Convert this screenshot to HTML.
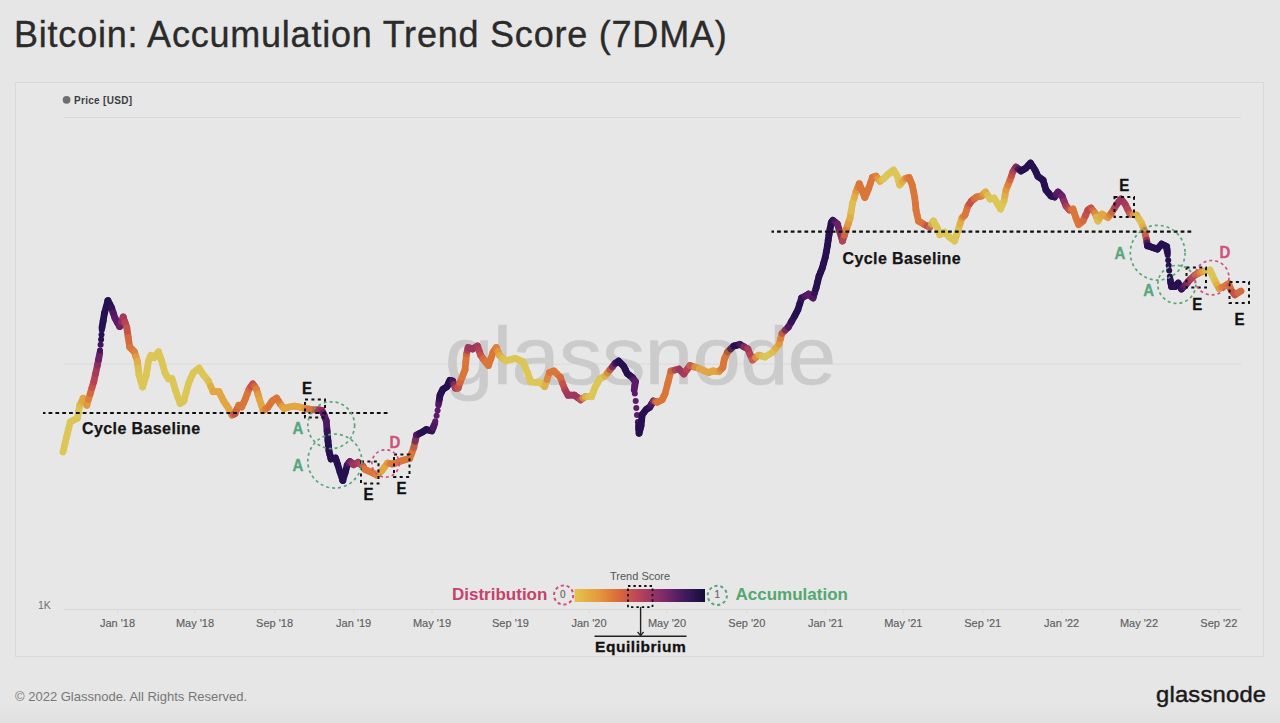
<!DOCTYPE html>
<html><head><meta charset="utf-8"><style>
html,body{margin:0;padding:0}
body{width:1280px;height:723px;overflow:hidden;position:relative;background:#e6e6e6;font-family:"Liberation Sans",sans-serif}
.abs{position:absolute;white-space:nowrap}
#title{left:14px;top:14.5px;font-size:36px;letter-spacing:0.78px;-webkit-text-stroke:0.35px #2b2b2b;color:#2b2b2b;line-height:40px}
#panel{position:absolute;left:15px;top:82px;width:1247px;height:573px;border:1px solid #d9d9d9;background:#e7e7e7}
.lab{position:absolute;width:40px;text-align:center;font-weight:bold;line-height:16px;transform:scaleY(1.08);-webkit-text-stroke:0.3px currentColor}
.xl{position:absolute;top:616.5px;width:80px;text-align:center;font-size:11px;color:#5e5e5e;line-height:13px;-webkit-text-stroke:0.15px #5e5e5e}
#footer{left:15px;top:688.5px;font-size:13px;color:#777;line-height:16px}
#logo{left:1155.6px;top:684.3px;font-size:22px;letter-spacing:0.2px;color:#1a1a1a;-webkit-text-stroke:0.45px #1a1a1a;line-height:22px;transform:scaleX(1.08);transform-origin:0 0}
#wm{left:444.8px;top:314.5px;font-size:82px;letter-spacing:-0.6px;color:#cbcbcb;-webkit-text-stroke:0.6px #cbcbcb;line-height:82px;transform:scaleX(1.06);transform-origin:0 0}
#bottom{position:absolute;left:0;top:703px;width:1280px;height:20px;background:linear-gradient(to bottom,rgba(224,224,224,0),#e0e0e0)}
</style></head><body>
<div id="panel"></div>
<div id="bottom"></div>
<div class="abs" id="title">Bitcoin: Accumulation Trend Score (7DMA)</div>
<svg class="abs" style="left:0;top:0" width="1280" height="723" viewBox="0 0 1280 723"><line x1="64" y1="117.5" x2="1241" y2="117.5" stroke="#dadada" stroke-width="1"/>
<line x1="64" y1="364" x2="1241" y2="364" stroke="#dadada" stroke-width="1"/>
<line x1="64" y1="609.5" x2="1241" y2="609.5" stroke="#d6d6d6" stroke-width="1"/><line x1="117.5" y1="610" x2="117.5" y2="614" stroke="#dcdcdc" stroke-width="1"/><line x1="195.0" y1="610" x2="195.0" y2="614" stroke="#dcdcdc" stroke-width="1"/><line x1="274.6" y1="610" x2="274.6" y2="614" stroke="#dcdcdc" stroke-width="1"/><line x1="353.7" y1="610" x2="353.7" y2="614" stroke="#dcdcdc" stroke-width="1"/><line x1="432.0" y1="610" x2="432.0" y2="614" stroke="#dcdcdc" stroke-width="1"/><line x1="510.5" y1="610" x2="510.5" y2="614" stroke="#dcdcdc" stroke-width="1"/><line x1="589.0" y1="610" x2="589.0" y2="614" stroke="#dcdcdc" stroke-width="1"/><line x1="667.0" y1="610" x2="667.0" y2="614" stroke="#dcdcdc" stroke-width="1"/><line x1="746.8" y1="610" x2="746.8" y2="614" stroke="#dcdcdc" stroke-width="1"/><line x1="825.5" y1="610" x2="825.5" y2="614" stroke="#dcdcdc" stroke-width="1"/><line x1="903.3" y1="610" x2="903.3" y2="614" stroke="#dcdcdc" stroke-width="1"/><line x1="982.7" y1="610" x2="982.7" y2="614" stroke="#dcdcdc" stroke-width="1"/><line x1="1061.7" y1="610" x2="1061.7" y2="614" stroke="#dcdcdc" stroke-width="1"/><line x1="1139.0" y1="610" x2="1139.0" y2="614" stroke="#dcdcdc" stroke-width="1"/><line x1="1218.8" y1="610" x2="1218.8" y2="614" stroke="#dcdcdc" stroke-width="1"/></svg>
<div class="abs" id="wm">glassnode</div>
<svg class="abs" style="left:0;top:0" width="1280" height="723" viewBox="0 0 1280 723">

<circle cx="66.6" cy="99.8" r="3.9" fill="#6e6e6e"/>
<g stroke-width="6.8" stroke-linecap="round" fill="none"><line x1="63.0" y1="452.0" x2="64.9" y2="444.0" stroke="#dcc656"/><line x1="64.9" y1="444.0" x2="66.8" y2="436.0" stroke="#dcc656"/><line x1="66.8" y1="436.0" x2="68.5" y2="429.0" stroke="#dcc656"/><line x1="68.5" y1="429.0" x2="70.3" y2="422.0" stroke="#dcc656"/><line x1="70.3" y1="422.0" x2="73.8" y2="420.1" stroke="#dcc656"/><line x1="73.8" y1="420.1" x2="77.4" y2="418.2" stroke="#dcc656"/><line x1="77.4" y1="418.2" x2="78.6" y2="411.8" stroke="#dcc656"/><line x1="78.6" y1="411.8" x2="79.7" y2="405.3" stroke="#dcc656"/><line x1="79.7" y1="405.3" x2="81.5" y2="401.8" stroke="#debe51"/><line x1="81.5" y1="401.8" x2="83.2" y2="398.2" stroke="#e0ae47"/><line x1="83.2" y1="398.2" x2="85.0" y2="401.8" stroke="#e2a642"/><line x1="85.0" y1="401.8" x2="86.8" y2="405.3" stroke="#e2a642"/><line x1="86.8" y1="405.3" x2="88.5" y2="399.4" stroke="#e09a40"/><line x1="88.5" y1="399.4" x2="90.3" y2="393.5" stroke="#dc823c"/><line x1="90.3" y1="393.5" x2="92.0" y2="387.6" stroke="#d36a3f"/><line x1="92.0" y1="387.6" x2="93.8" y2="381.8" stroke="#c55249"/><line x1="93.8" y1="381.8" x2="95.6" y2="373.6" stroke="#b64252"/><line x1="95.6" y1="373.6" x2="97.4" y2="365.3" stroke="#a63a5a"/><line x1="97.4" y1="365.3" x2="98.6" y2="359.4" stroke="#8e2f60"/><line x1="98.6" y1="359.4" x2="99.7" y2="353.5" stroke="#6c2166"/><circle cx="100.0" cy="350.6" r="3.0" fill="#41155c" stroke="none"/><circle cx="100.6" cy="344.7" r="3.0" fill="#41155c" stroke="none"/><circle cx="101.1" cy="339.4" r="3.0" fill="#261050" stroke="none"/><circle cx="101.5" cy="334.7" r="3.0" fill="#261050" stroke="none"/><circle cx="101.8" cy="330.0" r="3.0" fill="#261050" stroke="none"/><line x1="102.0" y1="327.6" x2="103.2" y2="320.6" stroke="#261050"/><line x1="103.2" y1="320.6" x2="104.4" y2="313.5" stroke="#261050"/><line x1="104.4" y1="313.5" x2="106.2" y2="307.1" stroke="#261050"/><line x1="106.2" y1="307.1" x2="107.9" y2="300.6" stroke="#261050"/><line x1="107.9" y1="300.6" x2="109.7" y2="304.1" stroke="#261050"/><line x1="109.7" y1="304.1" x2="111.5" y2="307.6" stroke="#261050"/><line x1="111.5" y1="307.6" x2="113.2" y2="312.9" stroke="#341256"/><line x1="113.2" y1="312.9" x2="115.0" y2="318.2" stroke="#4e1862"/><line x1="115.0" y1="318.2" x2="117.3" y2="322.4" stroke="#5c1a68"/><line x1="117.3" y1="322.4" x2="119.7" y2="326.5" stroke="#5c1a68"/><line x1="119.7" y1="326.5" x2="121.5" y2="321.8" stroke="#6c2166"/><line x1="121.5" y1="321.8" x2="123.2" y2="317.0" stroke="#8e2f60"/><line x1="123.2" y1="317.0" x2="125.0" y2="322.3" stroke="#a63a5a"/><line x1="125.0" y1="322.3" x2="126.8" y2="327.6" stroke="#b64252"/><line x1="126.8" y1="327.6" x2="128.2" y2="337.3" stroke="#c55249"/><line x1="128.2" y1="337.3" x2="129.7" y2="347.0" stroke="#d36a3f"/><line x1="129.7" y1="347.0" x2="132.1" y2="349.4" stroke="#da763a"/><line x1="132.1" y1="349.4" x2="134.4" y2="351.8" stroke="#da763a"/><line x1="134.4" y1="351.8" x2="135.9" y2="356.5" stroke="#dc823c"/><line x1="135.9" y1="356.5" x2="137.3" y2="361.2" stroke="#e09a40"/><line x1="137.3" y1="361.2" x2="138.2" y2="368.2" stroke="#e0ae47"/><line x1="138.2" y1="368.2" x2="139.1" y2="375.3" stroke="#debe51"/><line x1="139.1" y1="375.3" x2="140.8" y2="381.1" stroke="#dcc656"/><line x1="140.8" y1="381.1" x2="142.6" y2="387.0" stroke="#dcc656"/><line x1="142.6" y1="387.0" x2="144.4" y2="381.1" stroke="#dcc656"/><line x1="144.4" y1="381.1" x2="146.2" y2="375.3" stroke="#dcc656"/><line x1="146.2" y1="375.3" x2="147.3" y2="368.2" stroke="#dcc656"/><line x1="147.3" y1="368.2" x2="148.5" y2="361.2" stroke="#dcc656"/><line x1="148.5" y1="361.2" x2="149.7" y2="358.2" stroke="#dcc656"/><line x1="149.7" y1="358.2" x2="150.9" y2="355.3" stroke="#dcc656"/><line x1="150.9" y1="355.3" x2="152.7" y2="356.5" stroke="#dcc656"/><line x1="152.7" y1="356.5" x2="154.4" y2="357.6" stroke="#dcc656"/><line x1="154.4" y1="357.6" x2="156.4" y2="354.7" stroke="#dcc656"/><line x1="156.4" y1="354.7" x2="158.5" y2="351.8" stroke="#dcc656"/><line x1="158.5" y1="351.8" x2="159.9" y2="355.9" stroke="#dcc656"/><line x1="159.9" y1="355.9" x2="161.4" y2="360.0" stroke="#dcc656"/><line x1="161.4" y1="360.0" x2="163.2" y2="366.4" stroke="#dcc656"/><line x1="163.2" y1="366.4" x2="165.0" y2="372.9" stroke="#dcc656"/><line x1="165.0" y1="372.9" x2="166.8" y2="375.9" stroke="#dcc656"/><line x1="166.8" y1="375.9" x2="168.5" y2="378.8" stroke="#dcc656"/><line x1="168.5" y1="378.8" x2="170.2" y2="378.8" stroke="#dcc656"/><line x1="170.2" y1="378.8" x2="172.0" y2="378.8" stroke="#dcc656"/><line x1="172.0" y1="378.8" x2="173.8" y2="384.6" stroke="#dcc656"/><line x1="173.8" y1="384.6" x2="175.5" y2="390.5" stroke="#dcc656"/><line x1="175.5" y1="390.5" x2="177.8" y2="397.0" stroke="#dcc656"/><line x1="177.8" y1="397.0" x2="180.2" y2="403.5" stroke="#dcc656"/><line x1="180.2" y1="403.5" x2="182.0" y2="402.2" stroke="#dcc656"/><line x1="182.0" y1="402.2" x2="183.8" y2="401.0" stroke="#dcc656"/><line x1="183.8" y1="401.0" x2="186.2" y2="392.2" stroke="#dcc656"/><line x1="186.2" y1="392.2" x2="188.5" y2="383.5" stroke="#dcc656"/><line x1="188.5" y1="383.5" x2="190.8" y2="378.2" stroke="#dcc656"/><line x1="190.8" y1="378.2" x2="193.2" y2="372.9" stroke="#dcc656"/><line x1="193.2" y1="372.9" x2="196.1" y2="370.5" stroke="#dcc656"/><line x1="196.1" y1="370.5" x2="199.0" y2="368.2" stroke="#dcc656"/><line x1="199.0" y1="368.2" x2="201.3" y2="371.8" stroke="#dcc656"/><line x1="201.3" y1="371.8" x2="203.7" y2="375.3" stroke="#dcc656"/><line x1="203.7" y1="375.3" x2="206.1" y2="378.2" stroke="#dcc656"/><line x1="206.1" y1="378.2" x2="208.4" y2="381.1" stroke="#dcc656"/><line x1="208.4" y1="381.1" x2="210.8" y2="386.4" stroke="#debe51"/><line x1="210.8" y1="386.4" x2="213.1" y2="391.7" stroke="#e0ae47"/><line x1="213.1" y1="391.7" x2="216.1" y2="391.7" stroke="#e2a642"/><line x1="216.1" y1="391.7" x2="219.0" y2="391.7" stroke="#e2a642"/><line x1="219.0" y1="391.7" x2="221.3" y2="396.4" stroke="#e2a642"/><line x1="221.3" y1="396.4" x2="223.7" y2="401.1" stroke="#e2a642"/><line x1="223.7" y1="401.1" x2="226.1" y2="404.6" stroke="#e2a642"/><line x1="226.1" y1="404.6" x2="228.4" y2="408.2" stroke="#e2a642"/><line x1="228.4" y1="408.2" x2="230.2" y2="411.7" stroke="#e2a642"/><line x1="230.2" y1="411.7" x2="231.9" y2="415.2" stroke="#e2a642"/><line x1="231.9" y1="415.2" x2="233.4" y2="414.4" stroke="#d98e45"/><line x1="233.4" y1="414.4" x2="235.0" y2="413.6" stroke="#c75e4b"/><line x1="235.0" y1="413.6" x2="236.8" y2="409.5" stroke="#c55249"/><line x1="236.8" y1="409.5" x2="238.7" y2="405.4" stroke="#d36a3f"/><line x1="238.7" y1="405.4" x2="240.2" y2="406.2" stroke="#da763a"/><line x1="240.2" y1="406.2" x2="241.7" y2="407.0" stroke="#da763a"/><line x1="241.7" y1="407.0" x2="243.6" y2="402.9" stroke="#da763a"/><line x1="243.6" y1="402.9" x2="245.4" y2="398.8" stroke="#da763a"/><line x1="245.4" y1="398.8" x2="247.2" y2="394.0" stroke="#da763a"/><line x1="247.2" y1="394.0" x2="249.1" y2="389.1" stroke="#da763a"/><line x1="249.1" y1="389.1" x2="250.9" y2="386.5" stroke="#d36a3f"/><line x1="250.9" y1="386.5" x2="252.8" y2="383.9" stroke="#c55249"/><line x1="252.8" y1="383.9" x2="254.7" y2="386.5" stroke="#c55249"/><line x1="254.7" y1="386.5" x2="256.5" y2="389.1" stroke="#d36a3f"/><line x1="256.5" y1="389.1" x2="258.0" y2="394.3" stroke="#dc823c"/><line x1="258.0" y1="394.3" x2="259.5" y2="399.5" stroke="#e09a40"/><line x1="259.5" y1="399.5" x2="261.4" y2="405.1" stroke="#e2a642"/><line x1="261.4" y1="405.1" x2="263.2" y2="410.6" stroke="#e2a642"/><line x1="263.2" y1="410.6" x2="265.4" y2="409.1" stroke="#e09a40"/><line x1="265.4" y1="409.1" x2="267.7" y2="407.7" stroke="#dc823c"/><line x1="267.7" y1="407.7" x2="269.9" y2="404.4" stroke="#da763a"/><line x1="269.9" y1="404.4" x2="272.1" y2="401.0" stroke="#da763a"/><line x1="272.1" y1="401.0" x2="274.4" y2="399.5" stroke="#da763a"/><line x1="274.4" y1="399.5" x2="276.6" y2="398.0" stroke="#da763a"/><line x1="276.6" y1="398.0" x2="278.5" y2="401.0" stroke="#da763a"/><line x1="278.5" y1="401.0" x2="280.3" y2="404.0" stroke="#da763a"/><line x1="280.3" y1="404.0" x2="282.1" y2="406.2" stroke="#dc823c"/><line x1="282.1" y1="406.2" x2="284.0" y2="408.4" stroke="#e09a40"/><line x1="284.0" y1="408.4" x2="286.6" y2="407.7" stroke="#e2a642"/><line x1="286.6" y1="407.7" x2="289.2" y2="407.0" stroke="#e2a642"/><line x1="289.2" y1="407.0" x2="291.8" y2="406.6" stroke="#e2a642"/><line x1="291.8" y1="406.6" x2="294.4" y2="406.2" stroke="#e2a642"/><line x1="294.4" y1="406.2" x2="297.0" y2="406.6" stroke="#e2a642"/><line x1="297.0" y1="406.6" x2="299.6" y2="407.0" stroke="#e2a642"/><line x1="299.6" y1="407.0" x2="302.2" y2="407.7" stroke="#e2a642"/><line x1="302.2" y1="407.7" x2="304.8" y2="408.4" stroke="#e2a642"/><line x1="304.8" y1="408.4" x2="307.0" y2="408.8" stroke="#e09a40"/><line x1="307.0" y1="408.8" x2="309.2" y2="409.1" stroke="#dc823c"/><line x1="309.2" y1="409.1" x2="312.2" y2="409.5" stroke="#da763a"/><line x1="312.2" y1="409.5" x2="315.2" y2="409.9" stroke="#da763a"/><line x1="315.2" y1="409.9" x2="317.0" y2="409.9" stroke="#cb6643"/><line x1="317.0" y1="409.9" x2="318.9" y2="409.9" stroke="#ad4655"/><line x1="318.9" y1="409.9" x2="320.4" y2="410.2" stroke="#9e365e"/><line x1="320.4" y1="410.2" x2="321.9" y2="410.6" stroke="#9e365e"/><line x1="321.9" y1="410.6" x2="323.0" y2="412.9" stroke="#8e2f60"/><line x1="323.0" y1="412.9" x2="324.1" y2="415.1" stroke="#6c2166"/><line x1="324.1" y1="415.1" x2="325.2" y2="418.1" stroke="#5c1a68"/><line x1="325.2" y1="418.1" x2="326.3" y2="421.0" stroke="#5c1a68"/><line x1="326.3" y1="421.0" x2="327.1" y2="431.0" stroke="#4e1862"/><line x1="327.1" y1="431.0" x2="328.0" y2="441.0" stroke="#341256"/><line x1="328.0" y1="441.0" x2="328.5" y2="446.0" stroke="#261050"/><line x1="328.5" y1="446.0" x2="329.0" y2="451.0" stroke="#261050"/><line x1="329.0" y1="451.0" x2="330.0" y2="455.0" stroke="#261050"/><line x1="330.0" y1="455.0" x2="331.0" y2="459.0" stroke="#261050"/><line x1="331.0" y1="459.0" x2="333.2" y2="458.5" stroke="#261050"/><line x1="333.2" y1="458.5" x2="335.5" y2="458.0" stroke="#261050"/><line x1="335.5" y1="458.0" x2="336.5" y2="461.0" stroke="#261050"/><line x1="336.5" y1="461.0" x2="337.5" y2="464.0" stroke="#261050"/><line x1="337.5" y1="464.0" x2="340.1" y2="472.2" stroke="#261050"/><line x1="340.1" y1="472.2" x2="342.8" y2="480.5" stroke="#261050"/><line x1="342.8" y1="480.5" x2="345.1" y2="472.8" stroke="#261050"/><line x1="345.1" y1="472.8" x2="347.3" y2="465.0" stroke="#261050"/><line x1="347.3" y1="465.0" x2="348.6" y2="463.2" stroke="#341256"/><line x1="348.6" y1="463.2" x2="350.0" y2="461.5" stroke="#4e1862"/><line x1="350.0" y1="461.5" x2="351.8" y2="463.1" stroke="#6c2166"/><line x1="351.8" y1="463.1" x2="353.6" y2="464.7" stroke="#8e2f60"/><line x1="353.6" y1="464.7" x2="355.9" y2="463.5" stroke="#9e365e"/><line x1="355.9" y1="463.5" x2="358.2" y2="462.4" stroke="#9e365e"/><line x1="358.2" y1="462.4" x2="360.4" y2="464.2" stroke="#a63a5a"/><line x1="360.4" y1="464.2" x2="362.7" y2="466.0" stroke="#b64252"/><line x1="362.7" y1="466.0" x2="363.9" y2="467.8" stroke="#c55249"/><line x1="363.9" y1="467.8" x2="365.0" y2="469.5" stroke="#d36a3f"/><line x1="365.0" y1="469.5" x2="368.0" y2="470.8" stroke="#da763a"/><line x1="368.0" y1="470.8" x2="371.0" y2="472.0" stroke="#da763a"/><line x1="371.0" y1="472.0" x2="373.8" y2="473.5" stroke="#da763a"/><line x1="373.8" y1="473.5" x2="376.5" y2="475.0" stroke="#da763a"/><line x1="376.5" y1="475.0" x2="379.2" y2="472.8" stroke="#dc823c"/><line x1="379.2" y1="472.8" x2="382.0" y2="470.6" stroke="#e09a40"/><line x1="382.0" y1="470.6" x2="384.8" y2="466.8" stroke="#e2a642"/><line x1="384.8" y1="466.8" x2="387.6" y2="463.0" stroke="#e2a642"/><line x1="387.6" y1="463.0" x2="389.8" y2="463.5" stroke="#e09a40"/><line x1="389.8" y1="463.5" x2="392.0" y2="464.0" stroke="#dc823c"/><line x1="392.0" y1="464.0" x2="394.0" y2="463.5" stroke="#da763a"/><line x1="394.0" y1="463.5" x2="396.0" y2="463.0" stroke="#da763a"/><line x1="396.0" y1="463.0" x2="399.0" y2="461.8" stroke="#da763a"/><line x1="399.0" y1="461.8" x2="402.0" y2="460.6" stroke="#da763a"/><line x1="402.0" y1="460.6" x2="405.9" y2="459.6" stroke="#da763a"/><line x1="405.9" y1="459.6" x2="409.7" y2="458.5" stroke="#da763a"/><line x1="409.7" y1="458.5" x2="411.8" y2="453.0" stroke="#da763a"/><line x1="411.8" y1="453.0" x2="413.8" y2="447.5" stroke="#da763a"/><line x1="413.8" y1="447.5" x2="415.2" y2="441.2" stroke="#ba5f46"/><line x1="415.2" y1="441.2" x2="416.6" y2="435.0" stroke="#7c315c"/><line x1="416.6" y1="435.0" x2="419.4" y2="433.6" stroke="#4e1862"/><line x1="419.4" y1="433.6" x2="422.1" y2="432.2" stroke="#341256"/><line x1="422.1" y1="432.2" x2="424.2" y2="430.9" stroke="#261050"/><line x1="424.2" y1="430.9" x2="426.3" y2="429.5" stroke="#261050"/><line x1="426.3" y1="429.5" x2="429.1" y2="430.2" stroke="#261050"/><line x1="429.1" y1="430.2" x2="431.8" y2="430.9" stroke="#261050"/><line x1="431.8" y1="430.9" x2="433.2" y2="427.4" stroke="#341256"/><line x1="433.2" y1="427.4" x2="434.6" y2="424.0" stroke="#4e1862"/><circle cx="435.3" cy="421.2" r="3.0" fill="#5c1a68" stroke="none"/><circle cx="436.6" cy="415.7" r="3.0" fill="#5c1a68" stroke="none"/><circle cx="437.6" cy="410.5" r="3.0" fill="#5c1a68" stroke="none"/><circle cx="438.4" cy="405.6" r="3.0" fill="#5c1a68" stroke="none"/><line x1="438.7" y1="403.2" x2="439.4" y2="399.0" stroke="#4e1862"/><line x1="439.4" y1="399.0" x2="440.1" y2="394.9" stroke="#341256"/><line x1="440.1" y1="394.9" x2="441.5" y2="392.1" stroke="#261050"/><line x1="441.5" y1="392.1" x2="442.9" y2="389.4" stroke="#261050"/><line x1="442.9" y1="389.4" x2="444.9" y2="388.0" stroke="#261050"/><line x1="444.9" y1="388.0" x2="447.0" y2="386.6" stroke="#261050"/><line x1="447.0" y1="386.6" x2="448.4" y2="383.5" stroke="#261050"/><line x1="448.4" y1="383.5" x2="449.8" y2="380.4" stroke="#261050"/><line x1="449.8" y1="380.4" x2="451.2" y2="380.7" stroke="#261050"/><line x1="451.2" y1="380.7" x2="452.6" y2="381.0" stroke="#261050"/><line x1="452.6" y1="381.0" x2="454.0" y2="384.5" stroke="#441a54"/><line x1="454.0" y1="384.5" x2="455.3" y2="388.0" stroke="#802c5a"/><line x1="455.3" y1="388.0" x2="456.7" y2="388.0" stroke="#a63a5a"/><line x1="456.7" y1="388.0" x2="458.1" y2="388.0" stroke="#b64252"/><line x1="458.1" y1="388.0" x2="460.1" y2="382.4" stroke="#c55249"/><line x1="460.1" y1="382.4" x2="462.2" y2="376.9" stroke="#d36a3f"/><line x1="462.2" y1="376.9" x2="463.6" y2="373.4" stroke="#da763a"/><line x1="463.6" y1="373.4" x2="465.0" y2="370.0" stroke="#da763a"/><line x1="465.0" y1="370.0" x2="465.8" y2="361.9" stroke="#da763a"/><line x1="465.8" y1="361.9" x2="466.6" y2="353.8" stroke="#da763a"/><line x1="466.6" y1="353.8" x2="467.4" y2="350.6" stroke="#cb6643"/><line x1="467.4" y1="350.6" x2="468.1" y2="347.5" stroke="#ad4655"/><line x1="468.1" y1="347.5" x2="470.5" y2="348.2" stroke="#9e365e"/><line x1="470.5" y1="348.2" x2="472.8" y2="349.0" stroke="#9e365e"/><line x1="472.8" y1="349.0" x2="475.1" y2="347.5" stroke="#9e365e"/><line x1="475.1" y1="347.5" x2="477.5" y2="346.0" stroke="#9e365e"/><line x1="477.5" y1="346.0" x2="479.1" y2="350.6" stroke="#a63a5a"/><line x1="479.1" y1="350.6" x2="480.6" y2="355.3" stroke="#b64252"/><line x1="480.6" y1="355.3" x2="483.0" y2="358.5" stroke="#c55249"/><line x1="483.0" y1="358.5" x2="485.3" y2="361.6" stroke="#d36a3f"/><line x1="485.3" y1="361.6" x2="486.9" y2="363.6" stroke="#da763a"/><line x1="486.9" y1="363.6" x2="488.4" y2="365.5" stroke="#da763a"/><line x1="488.4" y1="365.5" x2="490.8" y2="358.9" stroke="#da763a"/><line x1="490.8" y1="358.9" x2="493.1" y2="352.2" stroke="#da763a"/><line x1="493.1" y1="352.2" x2="494.7" y2="349.9" stroke="#da763a"/><line x1="494.7" y1="349.9" x2="496.3" y2="347.5" stroke="#da763a"/><line x1="496.3" y1="347.5" x2="497.9" y2="351.4" stroke="#dc823c"/><line x1="497.9" y1="351.4" x2="499.4" y2="355.3" stroke="#e09a40"/><line x1="499.4" y1="355.3" x2="502.5" y2="358.1" stroke="#e0ae47"/><line x1="502.5" y1="358.1" x2="505.6" y2="360.8" stroke="#debe51"/><line x1="505.6" y1="360.8" x2="510.3" y2="359.6" stroke="#dcc656"/><line x1="510.3" y1="359.6" x2="515.0" y2="358.4" stroke="#dcc656"/><line x1="515.0" y1="358.4" x2="518.9" y2="360.0" stroke="#dcc656"/><line x1="518.9" y1="360.0" x2="522.8" y2="361.6" stroke="#dcc656"/><line x1="522.8" y1="361.6" x2="525.1" y2="367.1" stroke="#dcc656"/><line x1="525.1" y1="367.1" x2="527.5" y2="372.5" stroke="#dcc656"/><line x1="527.5" y1="372.5" x2="529.0" y2="377.2" stroke="#dcc656"/><line x1="529.0" y1="377.2" x2="530.6" y2="381.9" stroke="#dcc656"/><line x1="530.6" y1="381.9" x2="535.3" y2="382.3" stroke="#dcc656"/><line x1="535.3" y1="382.3" x2="540.0" y2="382.7" stroke="#dcc656"/><line x1="540.0" y1="382.7" x2="542.4" y2="384.6" stroke="#dcc656"/><line x1="542.4" y1="384.6" x2="544.7" y2="386.6" stroke="#dcc656"/><line x1="544.7" y1="386.6" x2="547.0" y2="379.6" stroke="#dcb24f"/><line x1="547.0" y1="379.6" x2="549.4" y2="372.5" stroke="#da8a41"/><line x1="549.4" y1="372.5" x2="551.7" y2="371.8" stroke="#da763a"/><line x1="551.7" y1="371.8" x2="554.0" y2="371.0" stroke="#da763a"/><line x1="554.0" y1="371.0" x2="557.1" y2="374.1" stroke="#da763a"/><line x1="557.1" y1="374.1" x2="560.3" y2="377.2" stroke="#da763a"/><line x1="560.3" y1="377.2" x2="562.6" y2="383.4" stroke="#d36a3f"/><line x1="562.6" y1="383.4" x2="565.0" y2="389.7" stroke="#c55249"/><line x1="565.0" y1="389.7" x2="566.5" y2="392.4" stroke="#b64252"/><line x1="566.5" y1="392.4" x2="568.1" y2="395.2" stroke="#a63a5a"/><line x1="568.1" y1="395.2" x2="571.2" y2="395.2" stroke="#9e365e"/><line x1="571.2" y1="395.2" x2="574.4" y2="395.2" stroke="#9e365e"/><line x1="574.4" y1="395.2" x2="577.5" y2="397.5" stroke="#9e365e"/><line x1="577.5" y1="397.5" x2="580.6" y2="399.8" stroke="#9e365e"/><line x1="580.6" y1="399.8" x2="583.0" y2="398.2" stroke="#af5257"/><line x1="583.0" y1="398.2" x2="585.3" y2="396.7" stroke="#d18a49"/><line x1="585.3" y1="396.7" x2="588.5" y2="396.7" stroke="#e0ae47"/><line x1="588.5" y1="396.7" x2="591.6" y2="396.7" stroke="#debe51"/><line x1="591.6" y1="396.7" x2="593.3" y2="392.0" stroke="#dcc656"/><line x1="593.3" y1="392.0" x2="595.0" y2="387.3" stroke="#dcc656"/><line x1="595.0" y1="387.3" x2="597.5" y2="383.0" stroke="#dcc656"/><line x1="597.5" y1="383.0" x2="600.0" y2="378.6" stroke="#dcc656"/><line x1="600.0" y1="378.6" x2="602.5" y2="377.4" stroke="#dcc656"/><line x1="602.5" y1="377.4" x2="605.0" y2="376.1" stroke="#dcc656"/><line x1="605.0" y1="376.1" x2="607.5" y2="373.0" stroke="#dcb24f"/><line x1="607.5" y1="373.0" x2="609.9" y2="369.9" stroke="#da8a41"/><line x1="609.9" y1="369.9" x2="612.4" y2="366.8" stroke="#ba5f46"/><line x1="612.4" y1="366.8" x2="614.9" y2="363.7" stroke="#7c315c"/><line x1="614.9" y1="363.7" x2="616.8" y2="362.4" stroke="#4e1862"/><line x1="616.8" y1="362.4" x2="618.6" y2="361.2" stroke="#341256"/><line x1="618.6" y1="361.2" x2="621.1" y2="363.7" stroke="#261050"/><line x1="621.1" y1="363.7" x2="623.6" y2="366.2" stroke="#261050"/><line x1="623.6" y1="366.2" x2="625.5" y2="369.9" stroke="#261050"/><line x1="625.5" y1="369.9" x2="627.3" y2="373.6" stroke="#261050"/><line x1="627.3" y1="373.6" x2="629.8" y2="375.5" stroke="#261050"/><line x1="629.8" y1="375.5" x2="632.3" y2="377.4" stroke="#261050"/><line x1="632.3" y1="377.4" x2="633.8" y2="379.5" stroke="#341256"/><line x1="633.8" y1="379.5" x2="635.4" y2="381.7" stroke="#4e1862"/><line x1="635.4" y1="381.7" x2="634.8" y2="385.8" stroke="#5c1a68"/><line x1="634.8" y1="385.8" x2="634.2" y2="389.8" stroke="#5c1a68"/><circle cx="634.8" cy="393.6" r="3.0" fill="#5c1a68" stroke="none"/><circle cx="635.7" cy="401.0" r="3.0" fill="#5c1a68" stroke="none"/><circle cx="636.3" cy="408.1" r="3.0" fill="#5c1a68" stroke="none"/><circle cx="637.0" cy="415.0" r="3.0" fill="#5c1a68" stroke="none"/><circle cx="637.9" cy="422.1" r="3.0" fill="#41155c" stroke="none"/><line x1="638.5" y1="425.9" x2="638.8" y2="429.6" stroke="#261050"/><line x1="638.8" y1="429.6" x2="639.1" y2="433.3" stroke="#261050"/><line x1="639.1" y1="433.3" x2="640.0" y2="429.6" stroke="#261050"/><line x1="640.0" y1="429.6" x2="641.0" y2="425.9" stroke="#261050"/><line x1="641.0" y1="425.9" x2="641.6" y2="420.3" stroke="#261050"/><line x1="641.6" y1="420.3" x2="642.2" y2="414.7" stroke="#261050"/><line x1="642.2" y1="414.7" x2="644.1" y2="412.2" stroke="#261050"/><line x1="644.1" y1="412.2" x2="646.0" y2="409.7" stroke="#261050"/><line x1="646.0" y1="409.7" x2="647.9" y2="408.4" stroke="#261050"/><line x1="647.9" y1="408.4" x2="649.7" y2="407.2" stroke="#261050"/><line x1="649.7" y1="407.2" x2="651.5" y2="404.1" stroke="#341256"/><line x1="651.5" y1="404.1" x2="653.4" y2="401.0" stroke="#4e1862"/><line x1="653.4" y1="401.0" x2="655.3" y2="401.6" stroke="#7c315c"/><line x1="655.3" y1="401.6" x2="657.2" y2="402.2" stroke="#ba5f46"/><line x1="657.2" y1="402.2" x2="659.7" y2="401.0" stroke="#da763a"/><line x1="659.7" y1="401.0" x2="662.1" y2="399.8" stroke="#da763a"/><line x1="662.1" y1="399.8" x2="663.5" y2="396.9" stroke="#da763a"/><line x1="663.5" y1="396.9" x2="665.0" y2="394.0" stroke="#da763a"/><line x1="665.0" y1="394.0" x2="668.0" y2="382.5" stroke="#da763a"/><line x1="668.0" y1="382.5" x2="671.0" y2="371.0" stroke="#da763a"/><line x1="671.0" y1="371.0" x2="675.0" y2="370.0" stroke="#cb6643"/><line x1="675.0" y1="370.0" x2="679.0" y2="369.0" stroke="#ad4655"/><line x1="679.0" y1="369.0" x2="681.4" y2="371.5" stroke="#9e365e"/><line x1="681.4" y1="371.5" x2="683.8" y2="374.0" stroke="#9e365e"/><line x1="683.8" y1="374.0" x2="686.9" y2="369.8" stroke="#a63a5a"/><line x1="686.9" y1="369.8" x2="690.0" y2="365.5" stroke="#b64252"/><line x1="690.0" y1="365.5" x2="694.7" y2="367.1" stroke="#c75e4b"/><line x1="694.7" y1="367.1" x2="699.4" y2="368.6" stroke="#d98e45"/><line x1="699.4" y1="368.6" x2="704.1" y2="370.6" stroke="#e2a642"/><line x1="704.1" y1="370.6" x2="708.8" y2="372.5" stroke="#e2a642"/><line x1="708.8" y1="372.5" x2="710.9" y2="371.8" stroke="#e2a642"/><line x1="710.9" y1="371.8" x2="713.0" y2="371.0" stroke="#e2a642"/><line x1="713.0" y1="371.0" x2="716.0" y2="371.3" stroke="#e2a642"/><line x1="716.0" y1="371.3" x2="719.0" y2="371.6" stroke="#e2a642"/><line x1="719.0" y1="371.6" x2="720.9" y2="369.5" stroke="#e09a40"/><line x1="720.9" y1="369.5" x2="722.8" y2="367.4" stroke="#dc823c"/><line x1="722.8" y1="367.4" x2="723.6" y2="363.2" stroke="#da763a"/><line x1="723.6" y1="363.2" x2="724.4" y2="359.0" stroke="#da763a"/><line x1="724.4" y1="359.0" x2="726.0" y2="355.5" stroke="#da763a"/><line x1="726.0" y1="355.5" x2="727.5" y2="352.0" stroke="#da763a"/><line x1="727.5" y1="352.0" x2="730.6" y2="349.0" stroke="#ad5c40"/><line x1="730.6" y1="349.0" x2="733.8" y2="346.0" stroke="#532a4a"/><line x1="733.8" y1="346.0" x2="736.9" y2="345.2" stroke="#261050"/><line x1="736.9" y1="345.2" x2="740.0" y2="344.4" stroke="#261050"/><line x1="740.0" y1="344.4" x2="743.9" y2="346.7" stroke="#441a54"/><line x1="743.9" y1="346.7" x2="747.8" y2="349.0" stroke="#802c5a"/><line x1="747.8" y1="349.0" x2="750.1" y2="354.5" stroke="#a63a5a"/><line x1="750.1" y1="354.5" x2="752.5" y2="360.0" stroke="#b64252"/><line x1="752.5" y1="360.0" x2="755.6" y2="357.6" stroke="#c75e4b"/><line x1="755.6" y1="357.6" x2="758.8" y2="355.3" stroke="#d98e45"/><line x1="758.8" y1="355.3" x2="761.9" y2="356.1" stroke="#e0ae47"/><line x1="761.9" y1="356.1" x2="765.0" y2="357.0" stroke="#debe51"/><line x1="765.0" y1="357.0" x2="768.9" y2="354.5" stroke="#dcc656"/><line x1="768.9" y1="354.5" x2="772.8" y2="352.0" stroke="#dcc656"/><line x1="772.8" y1="352.0" x2="775.9" y2="348.2" stroke="#debe51"/><line x1="775.9" y1="348.2" x2="779.0" y2="344.4" stroke="#e0ae47"/><line x1="779.0" y1="344.4" x2="780.5" y2="338.9" stroke="#e09a40"/><line x1="780.5" y1="338.9" x2="782.0" y2="333.4" stroke="#dc823c"/><line x1="782.0" y1="333.4" x2="785.2" y2="330.2" stroke="#ba5f46"/><line x1="785.2" y1="330.2" x2="788.4" y2="327.0" stroke="#7c315c"/><line x1="788.4" y1="327.0" x2="791.5" y2="321.5" stroke="#4e1862"/><line x1="791.5" y1="321.5" x2="794.7" y2="316.0" stroke="#341256"/><line x1="794.7" y1="316.0" x2="796.2" y2="313.0" stroke="#261050"/><line x1="796.2" y1="313.0" x2="797.8" y2="310.0" stroke="#261050"/><line x1="797.8" y1="310.0" x2="799.7" y2="304.0" stroke="#261050"/><line x1="799.7" y1="304.0" x2="801.6" y2="298.0" stroke="#261050"/><line x1="801.6" y1="298.0" x2="805.0" y2="296.1" stroke="#341256"/><line x1="805.0" y1="296.1" x2="808.5" y2="294.1" stroke="#4e1862"/><line x1="808.5" y1="294.1" x2="810.8" y2="296.1" stroke="#5c1a68"/><line x1="810.8" y1="296.1" x2="813.0" y2="298.0" stroke="#5c1a68"/><line x1="813.0" y1="298.0" x2="814.5" y2="293.0" stroke="#4e1862"/><line x1="814.5" y1="293.0" x2="816.1" y2="288.0" stroke="#341256"/><line x1="816.1" y1="288.0" x2="817.6" y2="281.9" stroke="#261050"/><line x1="817.6" y1="281.9" x2="819.1" y2="275.9" stroke="#261050"/><line x1="819.1" y1="275.9" x2="820.7" y2="272.1" stroke="#261050"/><line x1="820.7" y1="272.1" x2="822.2" y2="268.3" stroke="#261050"/><line x1="822.2" y1="268.3" x2="823.7" y2="263.0" stroke="#261050"/><line x1="823.7" y1="263.0" x2="825.2" y2="257.6" stroke="#261050"/><line x1="825.2" y1="257.6" x2="826.4" y2="251.5" stroke="#261050"/><line x1="826.4" y1="251.5" x2="827.5" y2="245.4" stroke="#261050"/><line x1="827.5" y1="245.4" x2="828.2" y2="240.1" stroke="#261050"/><line x1="828.2" y1="240.1" x2="829.0" y2="234.8" stroke="#261050"/><line x1="829.0" y1="234.8" x2="830.1" y2="228.7" stroke="#261050"/><line x1="830.1" y1="228.7" x2="831.3" y2="222.6" stroke="#261050"/><line x1="831.3" y1="222.6" x2="832.0" y2="221.4" stroke="#261050"/><line x1="832.0" y1="221.4" x2="832.8" y2="220.3" stroke="#261050"/><line x1="832.8" y1="220.3" x2="835.1" y2="222.2" stroke="#341256"/><line x1="835.1" y1="222.2" x2="837.4" y2="224.1" stroke="#4e1862"/><line x1="837.4" y1="224.1" x2="840.0" y2="232.6" stroke="#6c2166"/><line x1="840.0" y1="232.6" x2="842.5" y2="241.0" stroke="#8e2f60"/><line x1="842.5" y1="241.0" x2="844.4" y2="235.3" stroke="#ad4655"/><line x1="844.4" y1="235.3" x2="846.2" y2="229.7" stroke="#cb6643"/><line x1="846.2" y1="229.7" x2="848.1" y2="224.1" stroke="#dc823c"/><line x1="848.1" y1="224.1" x2="850.0" y2="218.5" stroke="#e09a40"/><line x1="850.0" y1="218.5" x2="851.2" y2="211.1" stroke="#e0ae47"/><line x1="851.2" y1="211.1" x2="852.5" y2="203.6" stroke="#debe51"/><line x1="852.5" y1="203.6" x2="854.4" y2="197.3" stroke="#debe51"/><line x1="854.4" y1="197.3" x2="856.2" y2="191.1" stroke="#e0ae47"/><line x1="856.2" y1="191.1" x2="857.8" y2="187.4" stroke="#e09a40"/><line x1="857.8" y1="187.4" x2="859.3" y2="183.7" stroke="#dc823c"/><line x1="859.3" y1="183.7" x2="860.8" y2="187.4" stroke="#da763a"/><line x1="860.8" y1="187.4" x2="862.4" y2="191.1" stroke="#da763a"/><line x1="862.4" y1="191.1" x2="863.6" y2="194.2" stroke="#da763a"/><line x1="863.6" y1="194.2" x2="864.9" y2="197.4" stroke="#da763a"/><line x1="864.9" y1="197.4" x2="866.8" y2="193.0" stroke="#da763a"/><line x1="866.8" y1="193.0" x2="868.6" y2="188.6" stroke="#da763a"/><line x1="868.6" y1="188.6" x2="870.5" y2="183.0" stroke="#da763a"/><line x1="870.5" y1="183.0" x2="872.4" y2="177.4" stroke="#da763a"/><line x1="872.4" y1="177.4" x2="874.2" y2="176.8" stroke="#da763a"/><line x1="874.2" y1="176.8" x2="876.1" y2="176.2" stroke="#da763a"/><line x1="876.1" y1="176.2" x2="878.0" y2="178.7" stroke="#dc823c"/><line x1="878.0" y1="178.7" x2="879.9" y2="181.2" stroke="#e09a40"/><line x1="879.9" y1="181.2" x2="881.8" y2="179.9" stroke="#e0ae47"/><line x1="881.8" y1="179.9" x2="883.6" y2="178.7" stroke="#debe51"/><line x1="883.6" y1="178.7" x2="885.5" y2="176.8" stroke="#dcc656"/><line x1="885.5" y1="176.8" x2="887.3" y2="175.0" stroke="#dcc656"/><line x1="887.3" y1="175.0" x2="890.4" y2="172.5" stroke="#dcc656"/><line x1="890.4" y1="172.5" x2="893.5" y2="170.0" stroke="#dcc656"/><line x1="893.5" y1="170.0" x2="895.4" y2="173.1" stroke="#dcc656"/><line x1="895.4" y1="173.1" x2="897.3" y2="176.2" stroke="#dcc656"/><line x1="897.3" y1="176.2" x2="898.5" y2="180.6" stroke="#dcc656"/><line x1="898.5" y1="180.6" x2="899.8" y2="184.9" stroke="#dcc656"/><line x1="899.8" y1="184.9" x2="902.3" y2="181.8" stroke="#debe51"/><line x1="902.3" y1="181.8" x2="904.8" y2="178.7" stroke="#e0ae47"/><line x1="904.8" y1="178.7" x2="907.0" y2="178.1" stroke="#e09a40"/><line x1="907.0" y1="178.1" x2="909.1" y2="177.4" stroke="#dc823c"/><line x1="909.1" y1="177.4" x2="910.7" y2="181.2" stroke="#da763a"/><line x1="910.7" y1="181.2" x2="912.2" y2="184.9" stroke="#da763a"/><line x1="912.2" y1="184.9" x2="913.5" y2="191.2" stroke="#da763a"/><line x1="913.5" y1="191.2" x2="914.7" y2="197.4" stroke="#da763a"/><line x1="914.7" y1="197.4" x2="915.4" y2="203.6" stroke="#da763a"/><line x1="915.4" y1="203.6" x2="916.0" y2="209.8" stroke="#da763a"/><line x1="916.0" y1="209.8" x2="917.2" y2="215.4" stroke="#da763a"/><line x1="917.2" y1="215.4" x2="918.5" y2="221.0" stroke="#da763a"/><line x1="918.5" y1="221.0" x2="921.6" y2="222.9" stroke="#da763a"/><line x1="921.6" y1="222.9" x2="924.7" y2="224.8" stroke="#da763a"/><line x1="924.7" y1="224.8" x2="927.2" y2="226.0" stroke="#d36a3f"/><line x1="927.2" y1="226.0" x2="929.7" y2="227.2" stroke="#c55249"/><line x1="929.7" y1="227.2" x2="931.5" y2="224.1" stroke="#c66650"/><line x1="931.5" y1="224.1" x2="933.4" y2="221.0" stroke="#d4a654"/><line x1="933.4" y1="221.0" x2="935.2" y2="224.1" stroke="#dcc656"/><line x1="935.2" y1="224.1" x2="937.1" y2="227.2" stroke="#dcc656"/><line x1="937.1" y1="227.2" x2="938.4" y2="230.9" stroke="#dcc656"/><line x1="938.4" y1="230.9" x2="939.6" y2="234.7" stroke="#dcc656"/><line x1="939.6" y1="234.7" x2="942.1" y2="233.4" stroke="#dcc656"/><line x1="942.1" y1="233.4" x2="944.6" y2="232.2" stroke="#dcc656"/><line x1="944.6" y1="232.2" x2="947.1" y2="234.7" stroke="#dcc656"/><line x1="947.1" y1="234.7" x2="949.6" y2="237.2" stroke="#dcc656"/><line x1="949.6" y1="237.2" x2="952.1" y2="239.1" stroke="#dcc656"/><line x1="952.1" y1="239.1" x2="954.6" y2="241.0" stroke="#dcc656"/><line x1="954.6" y1="241.0" x2="956.5" y2="235.3" stroke="#dcc656"/><line x1="956.5" y1="235.3" x2="958.3" y2="229.7" stroke="#dcc656"/><line x1="958.3" y1="229.7" x2="960.1" y2="223.8" stroke="#debe51"/><line x1="960.1" y1="223.8" x2="962.0" y2="218.0" stroke="#e0ae47"/><line x1="962.0" y1="218.0" x2="963.5" y2="216.5" stroke="#e09a40"/><line x1="963.5" y1="216.5" x2="965.0" y2="215.0" stroke="#dc823c"/><line x1="965.0" y1="215.0" x2="966.5" y2="210.5" stroke="#da763a"/><line x1="966.5" y1="210.5" x2="968.0" y2="206.0" stroke="#da763a"/><line x1="968.0" y1="206.0" x2="969.8" y2="203.5" stroke="#d36a3f"/><line x1="969.8" y1="203.5" x2="971.5" y2="201.0" stroke="#c55249"/><line x1="971.5" y1="201.0" x2="974.0" y2="199.0" stroke="#c55249"/><line x1="974.0" y1="199.0" x2="976.5" y2="197.0" stroke="#d36a3f"/><line x1="976.5" y1="197.0" x2="979.0" y2="196.5" stroke="#da763a"/><line x1="979.0" y1="196.5" x2="981.5" y2="196.0" stroke="#da763a"/><line x1="981.5" y1="196.0" x2="983.5" y2="194.0" stroke="#dc823c"/><line x1="983.5" y1="194.0" x2="985.6" y2="192.0" stroke="#e09a40"/><line x1="985.6" y1="192.0" x2="987.8" y2="195.5" stroke="#e0ae47"/><line x1="987.8" y1="195.5" x2="990.0" y2="199.0" stroke="#debe51"/><line x1="990.0" y1="199.0" x2="992.0" y2="198.5" stroke="#dcc656"/><line x1="992.0" y1="198.5" x2="994.0" y2="198.0" stroke="#dcc656"/><line x1="994.0" y1="198.0" x2="995.5" y2="200.5" stroke="#dcc656"/><line x1="995.5" y1="200.5" x2="997.0" y2="203.0" stroke="#dcc656"/><line x1="997.0" y1="203.0" x2="998.8" y2="206.0" stroke="#dcc656"/><line x1="998.8" y1="206.0" x2="1000.6" y2="209.0" stroke="#dcc656"/><line x1="1000.6" y1="209.0" x2="1002.3" y2="205.0" stroke="#dcc656"/><line x1="1002.3" y1="205.0" x2="1004.0" y2="201.0" stroke="#dcc656"/><line x1="1004.0" y1="201.0" x2="1005.0" y2="195.5" stroke="#debe51"/><line x1="1005.0" y1="195.5" x2="1006.0" y2="190.0" stroke="#e0ae47"/><line x1="1006.0" y1="190.0" x2="1008.0" y2="185.0" stroke="#e09a40"/><line x1="1008.0" y1="185.0" x2="1010.0" y2="180.0" stroke="#dc823c"/><line x1="1010.0" y1="180.0" x2="1011.5" y2="175.8" stroke="#d36a3f"/><line x1="1011.5" y1="175.8" x2="1013.0" y2="171.5" stroke="#c55249"/><line x1="1013.0" y1="171.5" x2="1014.5" y2="169.2" stroke="#b64252"/><line x1="1014.5" y1="169.2" x2="1016.0" y2="167.0" stroke="#a63a5a"/><line x1="1016.0" y1="167.0" x2="1018.5" y2="169.0" stroke="#802c5a"/><line x1="1018.5" y1="169.0" x2="1021.0" y2="171.0" stroke="#441a54"/><line x1="1021.0" y1="171.0" x2="1023.5" y2="169.5" stroke="#261050"/><line x1="1023.5" y1="169.5" x2="1026.0" y2="168.0" stroke="#261050"/><line x1="1026.0" y1="168.0" x2="1028.2" y2="165.5" stroke="#261050"/><line x1="1028.2" y1="165.5" x2="1030.5" y2="163.0" stroke="#261050"/><line x1="1030.5" y1="163.0" x2="1032.8" y2="166.5" stroke="#261050"/><line x1="1032.8" y1="166.5" x2="1035.0" y2="170.0" stroke="#261050"/><line x1="1035.0" y1="170.0" x2="1036.5" y2="173.2" stroke="#261050"/><line x1="1036.5" y1="173.2" x2="1038.0" y2="176.5" stroke="#261050"/><line x1="1038.0" y1="176.5" x2="1040.5" y2="178.2" stroke="#261050"/><line x1="1040.5" y1="178.2" x2="1043.0" y2="180.0" stroke="#261050"/><line x1="1043.0" y1="180.0" x2="1044.5" y2="185.0" stroke="#261050"/><line x1="1044.5" y1="185.0" x2="1046.0" y2="190.0" stroke="#261050"/><line x1="1046.0" y1="190.0" x2="1048.5" y2="193.0" stroke="#261050"/><line x1="1048.5" y1="193.0" x2="1051.0" y2="196.0" stroke="#261050"/><line x1="1051.0" y1="196.0" x2="1052.8" y2="196.5" stroke="#261050"/><line x1="1052.8" y1="196.5" x2="1054.5" y2="197.0" stroke="#261050"/><line x1="1054.5" y1="197.0" x2="1056.2" y2="194.5" stroke="#341256"/><line x1="1056.2" y1="194.5" x2="1058.0" y2="192.0" stroke="#4e1862"/><line x1="1058.0" y1="192.0" x2="1060.0" y2="194.0" stroke="#5c1a68"/><line x1="1060.0" y1="194.0" x2="1062.0" y2="196.0" stroke="#5c1a68"/><line x1="1062.0" y1="196.0" x2="1064.0" y2="201.0" stroke="#6c2166"/><line x1="1064.0" y1="201.0" x2="1066.0" y2="206.0" stroke="#8e2f60"/><line x1="1066.0" y1="206.0" x2="1067.8" y2="208.0" stroke="#a63a5a"/><line x1="1067.8" y1="208.0" x2="1069.5" y2="210.0" stroke="#b64252"/><line x1="1069.5" y1="210.0" x2="1071.2" y2="209.5" stroke="#c55249"/><line x1="1071.2" y1="209.5" x2="1073.0" y2="209.0" stroke="#d36a3f"/><line x1="1073.0" y1="209.0" x2="1074.5" y2="213.5" stroke="#da763a"/><line x1="1074.5" y1="213.5" x2="1076.0" y2="218.0" stroke="#da763a"/><line x1="1076.0" y1="218.0" x2="1077.3" y2="221.3" stroke="#da763a"/><line x1="1077.3" y1="221.3" x2="1078.6" y2="224.6" stroke="#da763a"/><line x1="1078.6" y1="224.6" x2="1080.8" y2="222.8" stroke="#da763a"/><line x1="1080.8" y1="222.8" x2="1083.0" y2="221.0" stroke="#da763a"/><line x1="1083.0" y1="221.0" x2="1085.5" y2="215.5" stroke="#d36a3f"/><line x1="1085.5" y1="215.5" x2="1088.0" y2="210.0" stroke="#c55249"/><line x1="1088.0" y1="210.0" x2="1089.5" y2="209.0" stroke="#be464e"/><line x1="1089.5" y1="209.0" x2="1091.0" y2="208.0" stroke="#be464e"/><line x1="1091.0" y1="208.0" x2="1093.0" y2="210.5" stroke="#c55249"/><line x1="1093.0" y1="210.5" x2="1095.0" y2="213.0" stroke="#d36a3f"/><line x1="1095.0" y1="213.0" x2="1096.5" y2="217.0" stroke="#da8a41"/><line x1="1096.5" y1="217.0" x2="1098.0" y2="221.0" stroke="#dcb24f"/><line x1="1098.0" y1="221.0" x2="1100.0" y2="217.5" stroke="#debe51"/><line x1="1100.0" y1="217.5" x2="1102.0" y2="214.0" stroke="#e0ae47"/><line x1="1102.0" y1="214.0" x2="1105.0" y2="215.8" stroke="#e2a642"/><line x1="1105.0" y1="215.8" x2="1108.0" y2="217.6" stroke="#e2a642"/><line x1="1108.0" y1="217.6" x2="1110.0" y2="214.8" stroke="#e09a40"/><line x1="1110.0" y1="214.8" x2="1112.0" y2="212.0" stroke="#dc823c"/><line x1="1112.0" y1="212.0" x2="1114.5" y2="208.0" stroke="#cb6643"/><line x1="1114.5" y1="208.0" x2="1117.0" y2="204.0" stroke="#ad4655"/><line x1="1117.0" y1="204.0" x2="1119.0" y2="201.5" stroke="#9e365e"/><line x1="1119.0" y1="201.5" x2="1121.0" y2="199.0" stroke="#9e365e"/><line x1="1121.0" y1="199.0" x2="1123.0" y2="201.5" stroke="#9e365e"/><line x1="1123.0" y1="201.5" x2="1125.0" y2="204.0" stroke="#9e365e"/><line x1="1125.0" y1="204.0" x2="1127.5" y2="209.0" stroke="#a63a5a"/><line x1="1127.5" y1="209.0" x2="1130.0" y2="214.0" stroke="#b64252"/><line x1="1130.0" y1="214.0" x2="1133.2" y2="214.5" stroke="#c75e4b"/><line x1="1133.2" y1="214.5" x2="1136.5" y2="215.0" stroke="#d98e45"/><line x1="1136.5" y1="215.0" x2="1139.0" y2="219.0" stroke="#e0ae47"/><line x1="1139.0" y1="219.0" x2="1141.5" y2="223.0" stroke="#debe51"/><line x1="1141.5" y1="223.0" x2="1142.9" y2="226.5" stroke="#debe51"/><line x1="1142.9" y1="226.5" x2="1144.3" y2="230.0" stroke="#e0ae47"/><line x1="1144.3" y1="230.0" x2="1145.4" y2="235.0" stroke="#d98e45"/><line x1="1145.4" y1="235.0" x2="1146.6" y2="240.0" stroke="#c75e4b"/><line x1="1146.6" y1="240.0" x2="1147.0" y2="242.9" stroke="#98384e"/><line x1="1147.0" y1="242.9" x2="1147.5" y2="245.8" stroke="#4c1e50"/><line x1="1147.5" y1="245.8" x2="1150.0" y2="246.6" stroke="#261050"/><line x1="1150.0" y1="246.6" x2="1152.4" y2="247.4" stroke="#261050"/><line x1="1152.4" y1="247.4" x2="1154.9" y2="248.2" stroke="#261050"/><line x1="1154.9" y1="248.2" x2="1157.4" y2="249.1" stroke="#261050"/><line x1="1157.4" y1="249.1" x2="1159.5" y2="246.6" stroke="#261050"/><line x1="1159.5" y1="246.6" x2="1161.6" y2="244.1" stroke="#261050"/><line x1="1161.6" y1="244.1" x2="1164.1" y2="245.3" stroke="#261050"/><line x1="1164.1" y1="245.3" x2="1166.6" y2="246.6" stroke="#261050"/><line x1="1166.6" y1="246.6" x2="1167.0" y2="249.5" stroke="#261050"/><line x1="1167.0" y1="249.5" x2="1167.4" y2="252.4" stroke="#261050"/><circle cx="1167.7" cy="255.0" r="3.0" fill="#261050" stroke="none"/><circle cx="1168.2" cy="260.2" r="3.0" fill="#261050" stroke="none"/><circle cx="1168.7" cy="265.4" r="3.0" fill="#261050" stroke="none"/><circle cx="1169.2" cy="270.6" r="3.0" fill="#261050" stroke="none"/><circle cx="1169.9" cy="276.5" r="3.0" fill="#261050" stroke="none"/><line x1="1170.3" y1="279.8" x2="1170.9" y2="283.1" stroke="#261050"/><line x1="1170.9" y1="283.1" x2="1171.5" y2="286.5" stroke="#261050"/><line x1="1171.5" y1="286.5" x2="1173.2" y2="286.5" stroke="#261050"/><line x1="1173.2" y1="286.5" x2="1174.9" y2="286.5" stroke="#261050"/><line x1="1174.9" y1="286.5" x2="1176.6" y2="284.8" stroke="#261050"/><line x1="1176.6" y1="284.8" x2="1178.2" y2="283.1" stroke="#261050"/><line x1="1178.2" y1="283.1" x2="1179.8" y2="286.1" stroke="#261050"/><line x1="1179.8" y1="286.1" x2="1181.5" y2="289.0" stroke="#261050"/><line x1="1181.5" y1="289.0" x2="1183.5" y2="286.9" stroke="#341256"/><line x1="1183.5" y1="286.9" x2="1185.6" y2="284.8" stroke="#4e1862"/><line x1="1185.6" y1="284.8" x2="1187.7" y2="282.3" stroke="#6c2166"/><line x1="1187.7" y1="282.3" x2="1189.8" y2="279.8" stroke="#8e2f60"/><line x1="1189.8" y1="279.8" x2="1192.4" y2="277.4" stroke="#a63a5a"/><line x1="1192.4" y1="277.4" x2="1195.0" y2="275.0" stroke="#b64252"/><line x1="1195.0" y1="275.0" x2="1197.5" y2="273.7" stroke="#c55249"/><line x1="1197.5" y1="273.7" x2="1200.0" y2="272.4" stroke="#d36a3f"/><line x1="1200.0" y1="272.4" x2="1202.5" y2="271.7" stroke="#dc823c"/><line x1="1202.5" y1="271.7" x2="1205.0" y2="271.0" stroke="#e09a40"/><line x1="1205.0" y1="271.0" x2="1207.5" y2="270.5" stroke="#e0ae47"/><line x1="1207.5" y1="270.5" x2="1210.0" y2="270.0" stroke="#debe51"/><line x1="1210.0" y1="270.0" x2="1212.5" y2="275.5" stroke="#dcc656"/><line x1="1212.5" y1="275.5" x2="1215.0" y2="281.0" stroke="#dcc656"/><line x1="1215.0" y1="281.0" x2="1217.1" y2="284.8" stroke="#debe51"/><line x1="1217.1" y1="284.8" x2="1219.2" y2="288.6" stroke="#e0ae47"/><line x1="1219.2" y1="288.6" x2="1222.0" y2="287.3" stroke="#e09a40"/><line x1="1222.0" y1="287.3" x2="1224.8" y2="286.0" stroke="#dc823c"/><line x1="1224.8" y1="286.0" x2="1226.7" y2="284.8" stroke="#da763a"/><line x1="1226.7" y1="284.8" x2="1228.6" y2="283.6" stroke="#da763a"/><line x1="1228.6" y1="283.6" x2="1229.8" y2="286.7" stroke="#da763a"/><line x1="1229.8" y1="286.7" x2="1231.0" y2="289.8" stroke="#da763a"/><line x1="1231.0" y1="289.8" x2="1232.9" y2="292.3" stroke="#d36a3f"/><line x1="1232.9" y1="292.3" x2="1234.8" y2="294.8" stroke="#c55249"/><line x1="1234.8" y1="294.8" x2="1237.9" y2="292.9" stroke="#c55249"/><line x1="1237.9" y1="292.9" x2="1241.0" y2="291.0" stroke="#d36a3f"/></g>
<line x1="43" y1="413" x2="388" y2="413" stroke="#111" stroke-width="2.2" stroke-dasharray="3.8 3.04" stroke-dashoffset="1.3"/><line x1="771.5" y1="231.6" x2="1192" y2="231.6" stroke="#111" stroke-width="2.2" stroke-dasharray="3.8 3.04" stroke-dashoffset="1.3"/><rect x="305" y="399.5" width="20" height="18.0" fill="none" stroke="#111" stroke-width="2" stroke-dasharray="3 3.4"/><rect x="361" y="461.5" width="17.5" height="22.0" fill="none" stroke="#111" stroke-width="2" stroke-dasharray="3 3.4"/><rect x="394" y="454.5" width="15.5" height="22.5" fill="none" stroke="#111" stroke-width="2" stroke-dasharray="3 3.4"/><rect x="1114.5" y="197" width="19.5" height="20" fill="none" stroke="#111" stroke-width="2" stroke-dasharray="3 3.4"/><rect x="1186.5" y="267.5" width="19.5" height="20.0" fill="none" stroke="#111" stroke-width="2" stroke-dasharray="3 3.4"/><rect x="1229.5" y="282" width="19.5" height="21" fill="none" stroke="#111" stroke-width="2" stroke-dasharray="3 3.4"/><circle cx="331.2" cy="425.2" r="23.4" fill="none" stroke="#58a67c" stroke-width="1.7" stroke-dasharray="3 3"/><circle cx="334.8" cy="461.1" r="27" fill="none" stroke="#58a67c" stroke-width="1.7" stroke-dasharray="3 3"/><circle cx="385.5" cy="463.5" r="13.7" fill="none" stroke="#d0507e" stroke-width="1.7" stroke-dasharray="3 3"/><circle cx="1157.7" cy="252.7" r="27.4" fill="none" stroke="#58a67c" stroke-width="1.7" stroke-dasharray="3 3"/><circle cx="1176.8" cy="284.4" r="19" fill="none" stroke="#58a67c" stroke-width="1.7" stroke-dasharray="3 3"/><circle cx="1211.8" cy="277.7" r="17.2" fill="none" stroke="#d0507e" stroke-width="1.7" stroke-dasharray="3 3"/>
<defs><linearGradient id="grad" x1="0" x2="1" y1="0" y2="0">
<stop offset="0" stop-color="#e6c44e"/><stop offset="0.18" stop-color="#e49a3c"/><stop offset="0.33" stop-color="#dc6c3a"/><stop offset="0.48" stop-color="#bc4658"/><stop offset="0.65" stop-color="#8a2e6a"/><stop offset="0.82" stop-color="#4a1c62"/><stop offset="1" stop-color="#140c38"/></linearGradient></defs>
<rect x="574.5" y="589" width="130.5" height="13" fill="url(#grad)"/>
<rect x="628" y="586" width="24.5" height="21.2" fill="none" stroke="#111" stroke-width="1.8" stroke-dasharray="2.4 3"/>
<line x1="640.6" y1="607" x2="640.6" y2="635" stroke="#222" stroke-width="1.4"/>
<path d="M637.6 632 L640.6 635.6 L643.6 632" fill="none" stroke="#222" stroke-width="1.3"/>
<line x1="594.5" y1="636.3" x2="686.5" y2="636.3" stroke="#222" stroke-width="1.6"/>
<circle cx="563.6" cy="595" r="9.6" fill="none" stroke="#d0507e" stroke-width="2" stroke-dasharray="3.2 2.8"/>
<circle cx="717.3" cy="595.4" r="9.6" fill="none" stroke="#58a67c" stroke-width="2" stroke-dasharray="3.2 2.8"/>
</svg>
<div class="abs" style="left:74px;top:95px;font-size:10px;font-weight:bold;letter-spacing:0.3px;color:#3c3c3c;line-height:12px">Price [USD]</div>
<div class="abs" style="left:38px;top:598.5px;font-size:10.5px;color:#707070;line-height:12px">1K</div>
<div class="abs" style="left:82px;top:419.5px;font-size:16px;font-weight:bold;letter-spacing:0.4px;-webkit-text-stroke:0.25px #151515;color:#151515;line-height:18px">Cycle Baseline</div>
<div class="abs" style="left:842.5px;top:250px;font-size:16px;font-weight:bold;letter-spacing:0.4px;-webkit-text-stroke:0.25px #151515;color:#151515;line-height:18px">Cycle Baseline</div>
<div class="lab" style="left:287px;top:380.5px;color:#111;font-size:15px">E</div><div class="lab" style="left:278px;top:420.5px;color:#58a67c;font-size:15px">A</div><div class="lab" style="left:278px;top:457.5px;color:#58a67c;font-size:15px">A</div><div class="lab" style="left:375px;top:434.5px;color:#d0507e;font-size:15px">D</div><div class="lab" style="left:348.5px;top:486.5px;color:#111;font-size:15px">E</div><div class="lab" style="left:381.5px;top:481.0px;color:#111;font-size:15px">E</div><div class="lab" style="left:1104.3px;top:178.1px;color:#111;font-size:15px">E</div><div class="lab" style="left:1100px;top:245.5px;color:#58a67c;font-size:15px">A</div><div class="lab" style="left:1128.6px;top:282.8px;color:#58a67c;font-size:15px">A</div><div class="lab" style="left:1205px;top:244.5px;color:#d0507e;font-size:15px">D</div><div class="lab" style="left:1177.3px;top:297.0px;color:#111;font-size:15px">E</div><div class="lab" style="left:1219.4px;top:312.0px;color:#111;font-size:15px">E</div>
<div class="abs" style="left:610px;top:569.5px;font-size:11px;color:#555;line-height:13px">Trend Score</div>
<div class="abs" style="left:452px;top:584.5px;font-size:17px;font-weight:bold;color:#c4436a;line-height:20px">Distribution</div>
<div class="abs" style="left:735.5px;top:585px;font-size:17px;font-weight:bold;color:#52a870;line-height:20px">Accumulation</div>
<div class="abs" style="left:560px;top:589px;font-size:10px;color:#6a6a6a;-webkit-text-stroke:0.2px #6a6a6a;line-height:12px">0</div>
<div class="abs" style="left:714.5px;top:589px;font-size:10px;color:#6a6a6a;-webkit-text-stroke:0.2px #6a6a6a;line-height:12px">1</div>
<div class="abs" style="left:595px;top:637.5px;font-size:15.5px;font-weight:bold;letter-spacing:0.55px;-webkit-text-stroke:0.3px #111;color:#111;line-height:18px">Equilibrium</div>
<div class="xl" style="left:77.5px">Jan &#39;18</div><div class="xl" style="left:155px">May &#39;18</div><div class="xl" style="left:234.60000000000002px">Sep &#39;18</div><div class="xl" style="left:313.7px">Jan &#39;19</div><div class="xl" style="left:392px">May &#39;19</div><div class="xl" style="left:470.5px">Sep &#39;19</div><div class="xl" style="left:549px">Jan &#39;20</div><div class="xl" style="left:627px">May &#39;20</div><div class="xl" style="left:706.8px">Sep &#39;20</div><div class="xl" style="left:785.5px">Jan &#39;21</div><div class="xl" style="left:863.3px">May &#39;21</div><div class="xl" style="left:942.7px">Sep &#39;21</div><div class="xl" style="left:1021.7px">Jan &#39;22</div><div class="xl" style="left:1099px">May &#39;22</div><div class="xl" style="left:1178.8px">Sep &#39;22</div>
<div class="abs" id="footer">© 2022 Glassnode. All Rights Reserved.</div>
<div class="abs" id="logo">glassnode</div>
</body></html>
